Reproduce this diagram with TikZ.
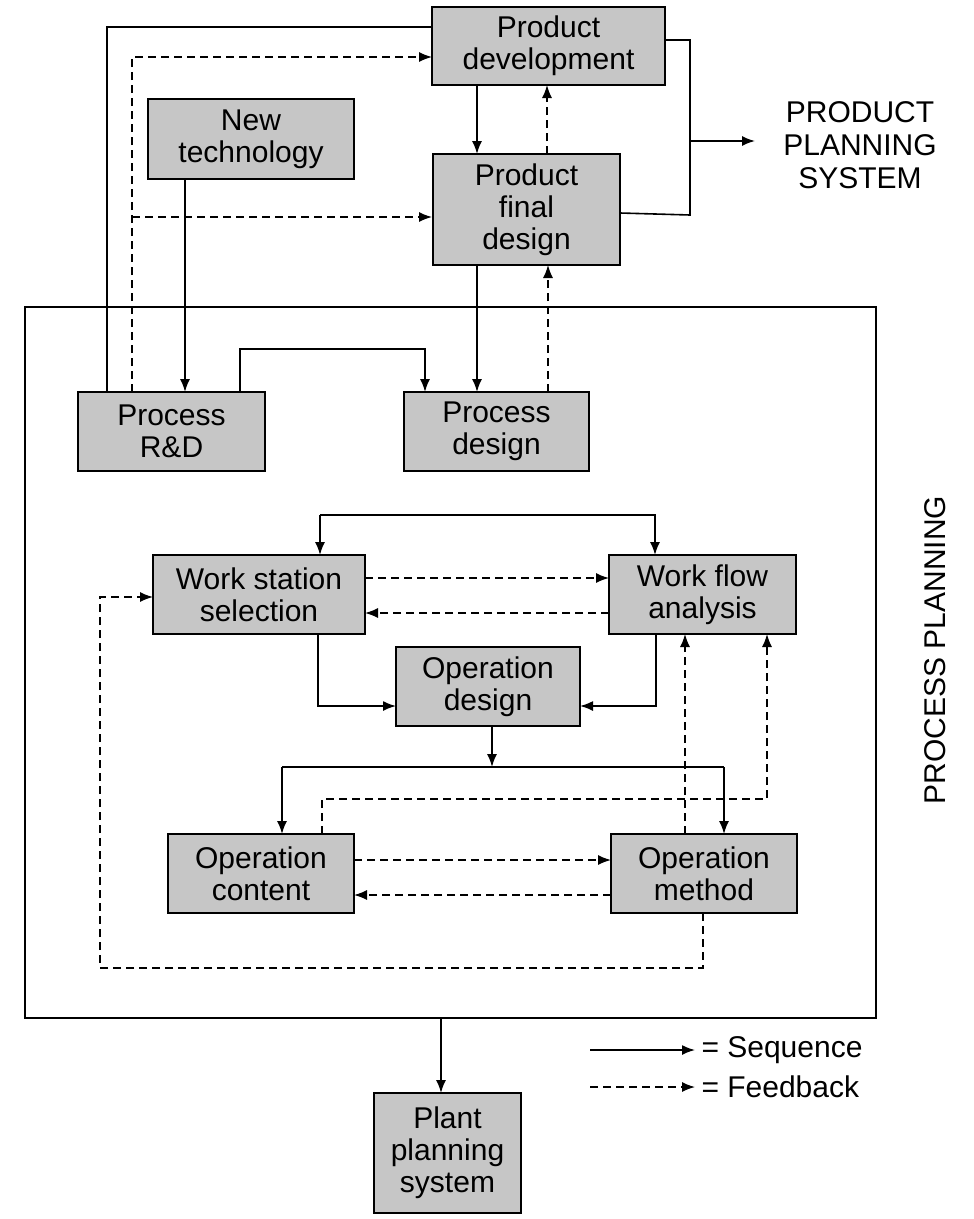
\documentclass[tikz,border=0pt]{standalone}
\usepackage{fontspec}
\setmainfont{Liberation Sans}
\usetikzlibrary{arrows.meta}
\begin{document}
\begin{tikzpicture}[x=1pt,y=-1pt,
 box/.style={draw,line width=1.6pt,fill=gray!45,align=center,inner sep=0pt,font=\fontsize{30}{32}\selectfont},
 seq/.style={line width=1.6pt,-{Latex[length=13pt,width=10pt]}},
 sl/.style={line width=1.6pt},
 fb/.style={line width=1.4pt,dash pattern=on 8pt off 5pt,-{Latex[length=13pt,width=10pt]}},
 fl/.style={line width=1.4pt,dash pattern=on 8pt off 5pt},
 lab/.style={font=\fontsize{30}{33}\selectfont,align=center}]
\useasboundingbox (0,0) rectangle (974,1219);
\newcommand{\bx}[6]{\node[box,minimum width=#4-#2,minimum height=#5-#3] (#1) at ({(#2+#4)/2},{(#3+#5)/2}) {#6};}
\bx{pd}{432}{7}{665}{85}{Product\\development}
\bx{nt}{148}{99}{354}{179}{New\\technology}
\bx{fd}{433}{154}{620}{265}{Product\\final\\design}
\draw[line width=1.6pt] (25,307) rectangle (876,1018);
\coordinate (fr) at (441,1018);
\bx{rd}{78}{392}{265}{471}{Process\\R\&D}
\bx{ps}{404}{392}{589}{471}{Process\\design}
\bx{ws}{153}{555}{365}{634}{Work station\\ selection}
\bx{wf}{609}{555}{796}{634}{Work flow\\analysis}
\bx{od}{396}{647}{580}{726}{Operation\\design}
\bx{oc}{168}{834}{354}{913}{Operation\\content}
\bx{om}{611}{834}{797}{913}{Operation\\method}
\bx{pp}{374}{1093}{521}{1213}{Plant\\planning\\system}
\node[lab] (pps) at (860,145) {PRODUCT\\PLANNING\\SYSTEM};
\node[lab,rotate=90] (prp) at (935,650) {PROCESS PLANNING};
% top connections
\draw[sl] (107,392) -- (107,27) -- (432,27);
\draw[fb] (132,392) -- (132,57) -- (432,57);
\draw[fb] (132,217) -- (432,217);
\draw[seq] (477,85) -- (477,154);
\draw[fb] (547,154) -- (547,85);
\draw[sl] (665,40) -- (690,40) -- (690,215) -- (620,213);
\draw[seq] (690,141) -- (755,141);
\draw[seq] (185,179) -- (185,392);
\draw[seq] (240,392) -- (240,349) -- (425,349) -- (425,392);
\draw[seq] (477,265) -- (477,392);
\draw[fb] (548,392) -- (548,265);
% inner
\draw[seq] (320,515) -- (320,555);
\draw[seq] (320,515) -- (655,515) -- (655,555);
\draw[fb] (365,578) -- (609,578);
\draw[fb] (609,613) -- (365,613);
\draw[seq] (318,634) -- (318,706) -- (396,706);
\draw[seq] (656,634) -- (656,706) -- (580,706);
\draw[seq] (492,726) -- (492,767);
\draw[sl] (282,767) -- (724,767);
\draw[seq] (282,767) -- (282,834);
\draw[seq] (724,767) -- (724,834);
\draw[fb] (322,834) -- (322,799) -- (767,799) -- (767,634);
\draw[fb] (685,834) -- (685,634);
\draw[fb] (354,860) -- (611,860);
\draw[fb] (611,895) -- (354,895);
\draw[fb] (703,913) -- (703,968) -- (100,968) -- (100,597) -- (153,597);
\draw[seq] (fr) -- (441,1093);
% legend
\draw[seq] (590,1050) -- (695,1050);
\node[lab,anchor=west] (ls) at (698,1050) {= Sequence};
\draw[fb] (590,1087) -- (695,1087);
\node[lab,anchor=west] (lf) at (698,1087) {= Feedback};
\end{tikzpicture}
\end{document}
